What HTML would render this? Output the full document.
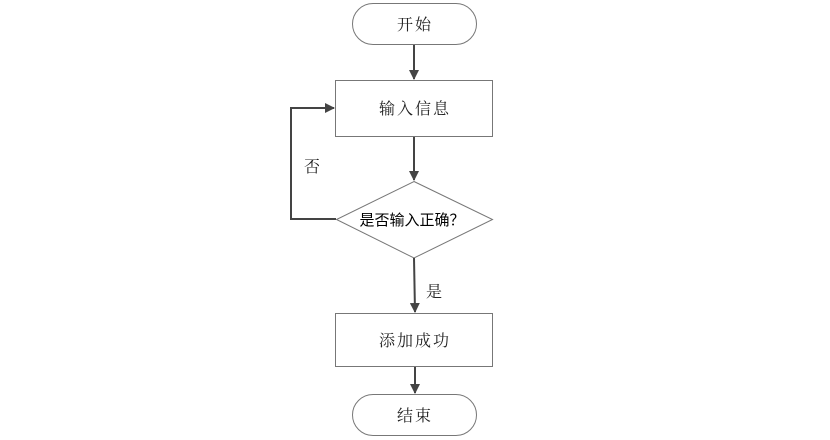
<!DOCTYPE html>
<html><head><meta charset="utf-8"><style>
html,body{margin:0;padding:0;background:#fff;}
svg{display:block;}
.t{font-family:"Liberation Serif","Noto Serif CJK SC",serif;font-size:16px;fill:#222;letter-spacing:2px;}
.d{font-family:"Liberation Sans","Noto Sans CJK SC",sans-serif;font-size:15px;fill:#000;}
</style></head><body>
<svg width="830" height="440" viewBox="0 0 830 440" xmlns="http://www.w3.org/2000/svg">
<defs><marker id="a" markerWidth="10" markerHeight="10" refX="9" refY="5" orient="auto" markerUnits="userSpaceOnUse"><path d="M0,0 L10,5 L0,10 Z" fill="#444"/></marker></defs>
<g fill="#fff" stroke="#777" stroke-width="1">
<rect x="352.5" y="3.5" width="124" height="41" rx="20.5"/>
<rect x="335.5" y="80.5" width="157" height="56"/>
<polygon points="414,181.5 492.5,219.5 414,258 336.5,219.5"/>
<rect x="335.5" y="313.5" width="157" height="53"/>
<rect x="352.5" y="394.5" width="124" height="41" rx="20.5"/>
</g>
<g stroke="#444" stroke-width="2" fill="none">
<line x1="414" y1="45" x2="414" y2="79" marker-end="url(#a)"/>
<line x1="414" y1="137" x2="414" y2="180" marker-end="url(#a)"/>
<polyline points="336,219 291,219 291,108 334,108" marker-end="url(#a)"/>
<line x1="414" y1="258" x2="415" y2="312" marker-end="url(#a)"/>
<line x1="415" y1="367" x2="415" y2="393" marker-end="url(#a)"/>
</g>
<text class="t" x="415" y="30" text-anchor="middle">开始</text>
<text class="t" x="415" y="114" text-anchor="middle">输入信息</text>
<text class="d" x="412" y="225" text-anchor="middle">是否输入正确？</text>
<text class="t" x="415" y="346" text-anchor="middle">添加成功</text>
<text class="t" x="415" y="421" text-anchor="middle">结束</text>
<text class="t" x="304" y="172">否</text>
<text class="t" x="426" y="297">是</text>
</svg>
</body></html>
